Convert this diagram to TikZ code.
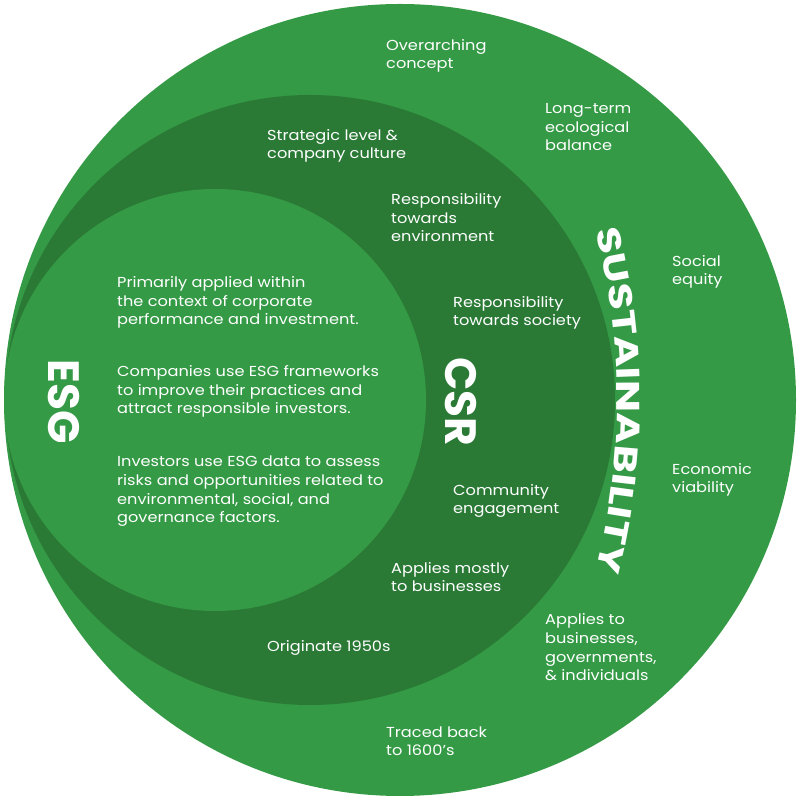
\documentclass[tikz,border=0pt]{standalone}
\usepackage{fontspec}
\setmainfont{Poppins}
\newfontfamily\notefont[FakeStretch=1.12]{Poppins}
\usetikzlibrary{calc,decorations.text}
\definecolor{outergreen}{HTML}{349A45}
\definecolor{midgreen}{HTML}{2A7A36}
\begin{document}
\begin{tikzpicture}[x=1bp,y=1bp,
  note/.style={anchor=base west, inner sep=0pt, align=left, text=white,
    font=\notefont\fontsize{14.5}{19}\selectfont},
  title/.style={text=white, inner sep=0pt, rotate=-90,
    font=\fontsize{44}{44}\selectfont\bfseries}]
\useasboundingbox (0,0) rectangle (800,800);

% Circles
\fill[outergreen] (400,400) circle (396);
\fill[midgreen] (310,400) circle (305);
\fill[outergreen] (215,400) circle (211);

% Sustainability, curved along the right side
\path[decorate, decoration={text along path, text align=center,
  text={|\fontsize{33}{33}\selectfont\bfseries\addfontfeature{FakeStretch=1.3}\color{white}|SUSTAINABILITY}}]
  ($(-74,400)+(14.6:691)$) arc (14.6:-14.6:691);

% Titles
\node (esg) [title] at (64,398) {ESG};
\node (csr) [title] at (461,398) {CSR};

% Outer ring notes (base is the last line)
\node (overarching) [note] at (386,731) {Overarching\\concept};
\node (longterm) [note] at (545,649) {Long-term\\ecological\\balance};
\node (social) [note] at (672,515) {Social\\equity};
\node (economic) [note] at (672,307) {Economic\\viability};
\node (appliesall) [note] at (545,119) {Applies to\\businesses,\\governments,\\\& individuals};
\node (traced) [note] at (386,44) {Traced back\\to 1600’s};

% CSR notes
\node (strategic) [note] at (267,641) {Strategic level \&\\company culture};
\node (environment) [note] at (391,558) {Responsibility\\towards\\environment};
\node (society) [note] at (453,474) {Responsibility\\towards society};
\node (community) [note] at (453,286) {Community\\engagement};
\node (appliesmostly) [note] at (391,208) {Applies mostly\\to businesses};
\node (originate) [note] at (267,148) {Originate 1950s};

% ESG notes
\node (primarily) [note] at (117,475) {Primarily applied within\\the context of corporate\\performance and investment.};
\node (companies) [note] at (117,386) {Companies use ESG frameworks\\to improve their practices and\\attract responsible investors.};
\node (investors) [note] at (117,277) {Investors use ESG data to assess\\risks and opportunities related to\\environmental, social, and\\governance factors.};

\end{tikzpicture}
\end{document}
